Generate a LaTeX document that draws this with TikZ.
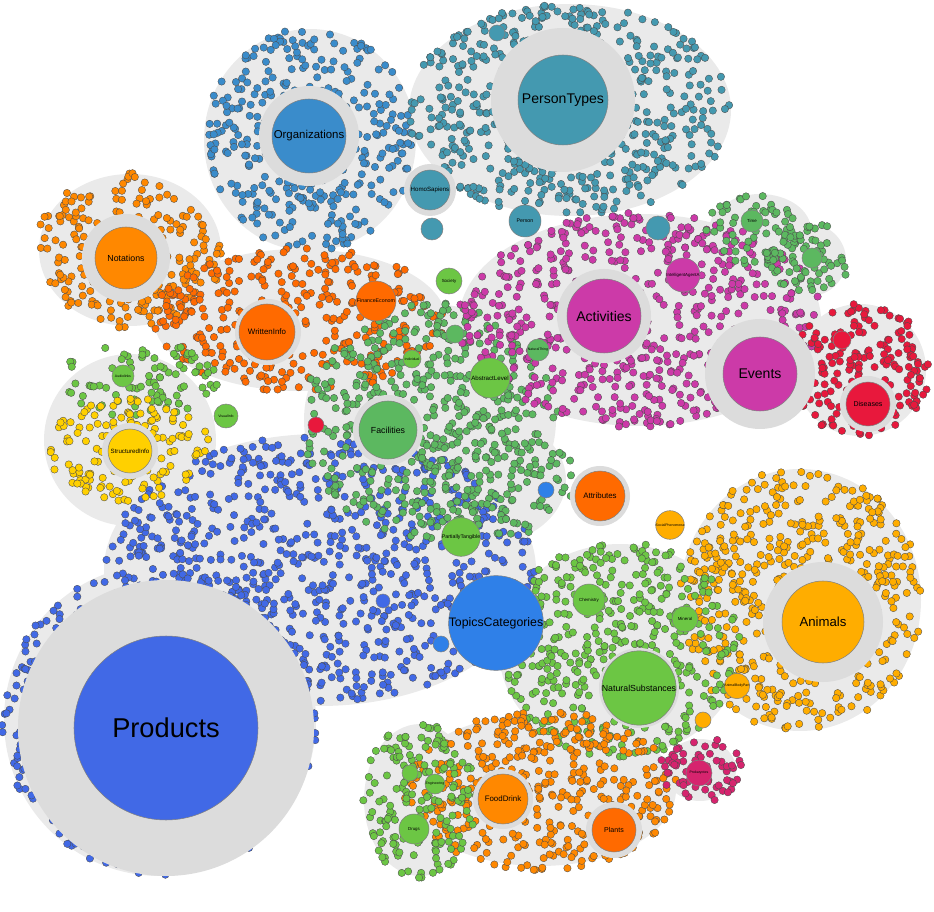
\documentclass[tikz,border=0pt]{standalone}
\usepackage{fontspec}
\setmainfont{Liberation Sans}
\definecolor{cProd}{HTML}{4169E6}
\definecolor{cOrg}{HTML}{3A8CCB}
\definecolor{cPers}{HTML}{4499B0}
\definecolor{cOra}{HTML}{FF8800}
\definecolor{cOrb}{HTML}{FF6A00}
\definecolor{cYel}{HTML}{FFD000}
\definecolor{cGre}{HTML}{6CC644}
\definecolor{cGrd}{HTML}{5CB860}
\definecolor{cMag}{HTML}{CC3AA8}
\definecolor{cRed}{HTML}{E8183C}
\definecolor{cAmb}{HTML}{FFAD00}
\definecolor{cTop}{HTML}{2F80E8}
\definecolor{cPro}{HTML}{D6246E}
\definecolor{halo}{HTML}{DCDCDC}
\tikzset{
  bub/.style={circle,draw=black!50,line width=0.3pt,inner sep=0pt,align=center},
  dot/.style={draw=black!70,line width=0.2pt},
}
\begin{document}
\begin{tikzpicture}[x=0.02cm,y=-0.02cm]
\useasboundingbox (0,0) rectangle (934,912);
\pgfmathsetseed{7}
% background haze
\foreach \cx/\cy/\rx/\ry in {160/720/160/160,320/570/220/140,310/140/110/115,570/110/165/110,130/250/95/80,300/320/150/75,130/440/90/90,430/420/130/120,640/320/185/110,860/370/70/70,760/230/55/40,810/260/40/40,800/600/125/135,620/650/125/110,540/790/140/80,420/800/60/80,700/770/40/35,480/480/90/70}
  \fill[halo!60] (\cx,\cy) ellipse ({\rx-4} and {\ry-4});
% dot clusters
\foreach \cx/\cy/\rx/\ry/\col/\n in {
 160/720/158/155/cProd/450, 320/570/215/135/cProd/560,
 310/140/105/112/cOrg/240, 570/110/162/107/cPers/380,
 130/250/95/78/cOra/160, 300/320/148/72/cOrb/230,
 140/380/80/38/cGre/60, 130/450/82/52/cYel/100,
 430/420/128/118/cGrd/300, 640/320/182/108/cMag/420,
 860/370/70/68/cRed/130, 760/230/55/38/cGrd/50, 810/260/40/38/cGrd/40,
 800/600/122/132/cAmb/360, 620/650/122/108/cGre/300,
 540/790/138/80/cOra/260, 420/800/58/78/cGre/110, 700/770/42/34/cPro/40,
 490/480/85/60/cGrd/70}
{
  \pgfmathtruncatemacro\nn{\n*1.5}
  \foreach \i in {1,...,\nn}{
    \pgfmathsetmacro\aa{rnd*360}
    \pgfmathsetmacro\rr{sqrt(rnd)}
    \filldraw[dot,fill=\col] ({\cx+\rx*\rr*cos(\aa)},{\cy+\ry*\rr*sin(\aa)}) circle (3.7);
  }
}
% halos around hubs
\foreach \x/\y/\r in {166/728/148,309/136/50,563/100/72,126/258/44,760/374/55,823/622/60,496/623/45,604/316/47,639/688/40,614/830/28,503/799/30,388/430/35,268/332/33,868/404/28,130/451/28,600/496/30,430/190/26}
  \fill[halo] (\x,\y) circle (\r);
% hubs
\node[bub,fill=cProd,minimum size={184*0.02cm},font=\fontsize{15.5}{16}\selectfont] (products) at (166,728) {Products};
\node[bub,fill=cOrg,minimum size={74*0.02cm},font=\fontsize{6.5}{7}\selectfont] (org) at (309,136) {Organizations};
\node[bub,fill=cPers,minimum size={90*0.02cm},font=\fontsize{8}{8}\selectfont] (pers) at (563,100) {PersonTypes};
\node[bub,fill=cPers,minimum size={40*0.02cm},font=\fontsize{3.5}{4}\selectfont] (homo) at (430,190) {HomoSapiens};
\node[bub,fill=cPers,minimum size={32*0.02cm},font=\fontsize{3}{3}\selectfont] (person) at (525,221) {Person};
\node[bub,fill=cPers,minimum size={22*0.02cm}] (p1) at (432,229) {};
\node[bub,fill=cPers,minimum size={24*0.02cm}] (p2) at (658,228) {};
\node[bub,fill=cPers,minimum size={16*0.02cm}] (p3) at (497,33) {};
\node[bub,fill=cOra,minimum size={62*0.02cm},font=\fontsize{5}{5}\selectfont] (nota) at (126,258) {Notations};
\node[bub,fill=cOrb,minimum size={56*0.02cm},font=\fontsize{4.5}{5}\selectfont] (writ) at (267,332) {WrittenInfo};
\node[bub,fill=cOrb,minimum size={40*0.02cm},font=\fontsize{3}{3}\selectfont] (fin) at (376,301) {FinanceEconom};
\node[bub,fill=cGre,minimum size={26*0.02cm},font=\fontsize{2.5}{3}\selectfont] (soc) at (449,281) {Society};
\node[bub,fill=cGrd,minimum size={18*0.02cm}] (g1) at (455,334) {};
\node[bub,fill=cGre,minimum size={18*0.02cm},font=\fontsize{2}{2}\selectfont] (indiv) at (412,359) {Individual};
\node[bub,fill=cGrd,minimum size={22*0.02cm},font=\fontsize{2}{2}\selectfont] (nat) at (538,350) {NaturalThing};
\node[bub,fill=cGre,minimum size={40*0.02cm},font=\fontsize{3.5}{4}\selectfont] (abs) at (490,378) {AbstractLevel};
\node[bub,fill=cMag,minimum size={74*0.02cm},font=\fontsize{8}{8}\selectfont] (act) at (604,316) {Activities};
\node[bub,fill=cMag,minimum size={34*0.02cm},font=\fontsize{2.5}{3}\selectfont] (intel) at (683,275) {IntelligentAgentA};
\node[bub,fill=cMag,minimum size={74*0.02cm},font=\fontsize{8}{8}\selectfont] (events) at (760,374) {Events};
\node[bub,fill=cRed,minimum size={44*0.02cm},font=\fontsize{4}{4}\selectfont] (dis) at (868,404) {Diseases};
\node[bub,fill=cRed,minimum size={18*0.02cm}] (r1) at (842,340) {};
\node[bub,fill=cGrd,minimum size={22*0.02cm},font=\fontsize{2.5}{3}\selectfont] (time) at (752,221) {Time};
\node[bub,fill=cGrd,minimum size={20*0.02cm}] (g2) at (812,258) {};
\node[bub,fill=cGre,minimum size={22*0.02cm},font=\fontsize{2}{2}\selectfont] (aud) at (123,376) {Audiolinks};
\node[bub,fill=cGre,minimum size={24*0.02cm},font=\fontsize{2}{2}\selectfont] (vis) at (226,416) {VisualInfo};
\node[bub,fill=cYel,minimum size={44*0.02cm},font=\fontsize{3.5}{4}\selectfont] (struct) at (130,451) {StructuredInfo};
\node[bub,fill=cGrd,minimum size={58*0.02cm},font=\fontsize{5}{5}\selectfont] (fac) at (388,430) {Facilities};
\node[bub,fill=cRed,minimum size={16*0.02cm}] (r2) at (316,425) {};
\node[bub,fill=cOrb,minimum size={50*0.02cm},font=\fontsize{4.5}{5}\selectfont] (attr) at (600,496) {Attributes};
\node[bub,fill=cAmb,minimum size={22*0.02cm},font=\fontsize{2}{2}\selectfont] (a1) at (670,525) {SocialPhenomena};
\node[bub,fill=cTop,minimum size={16*0.02cm}] (b1) at (546,490) {};
\node[bub,fill=cGre,minimum size={34*0.02cm},font=\fontsize{3}{3}\selectfont] (part) at (461,537) {PartiallyTangible};
\node[bub,fill=cTop,minimum size={76*0.02cm},font=\fontsize{7}{7}\selectfont] (topics) at (496,623) {TopicsCategories};
\node[bub,fill=cTop,minimum size={16*0.02cm}] (b2) at (441,644) {};
\node[bub,fill=cProd,minimum size={14*0.02cm}] (b3) at (383,601) {};
\node[bub,fill=cGre,minimum size={32*0.02cm},font=\fontsize{2.5}{3}\selectfont] (chem) at (589,600) {Chemistry};
\node[bub,fill=cGre,minimum size={26*0.02cm},font=\fontsize{2.5}{3}\selectfont] (min) at (685,619) {Mineral};
\node[bub,fill=cGre,minimum size={62*0.02cm},font=\fontsize{5}{5}\selectfont] (natsub) at (639,688) {NaturalSubstances};
\node[bub,fill=cAmb,minimum size={82*0.02cm},font=\fontsize{7.5}{8}\selectfont] (anim) at (823,622) {Animals};
\node[bub,fill=cAmb,minimum size={22*0.02cm},font=\fontsize{2}{2}\selectfont] (a2) at (737,686) {AnimalBodyPart};
\node[bub,fill=cAmb,minimum size={16*0.02cm}] (a3) at (703,720) {};
\node[bub,fill=cPro,minimum size={26*0.02cm},font=\fontsize{2}{2}\selectfont] (prok) at (699,773) {Prokaryotes};
\node[bub,fill=cOra,minimum size={50*0.02cm},font=\fontsize{4.5}{5}\selectfont] (food) at (503,799) {FoodDrink};
\node[bub,fill=cOrb,minimum size={44*0.02cm},font=\fontsize{4}{4}\selectfont] (plants) at (614,830) {Plants};
\node[bub,fill=cGre,minimum size={30*0.02cm},font=\fontsize{2.5}{3}\selectfont] (drugs) at (414,829) {Drugs};
\node[bub,fill=cGre,minimum size={20*0.02cm},font=\fontsize{2}{2}\selectfont] (eng) at (435,784) {Engineering};
\node[bub,fill=cGre,minimum size={16*0.02cm}] (g3) at (410,773) {};
\end{tikzpicture}
\end{document}
